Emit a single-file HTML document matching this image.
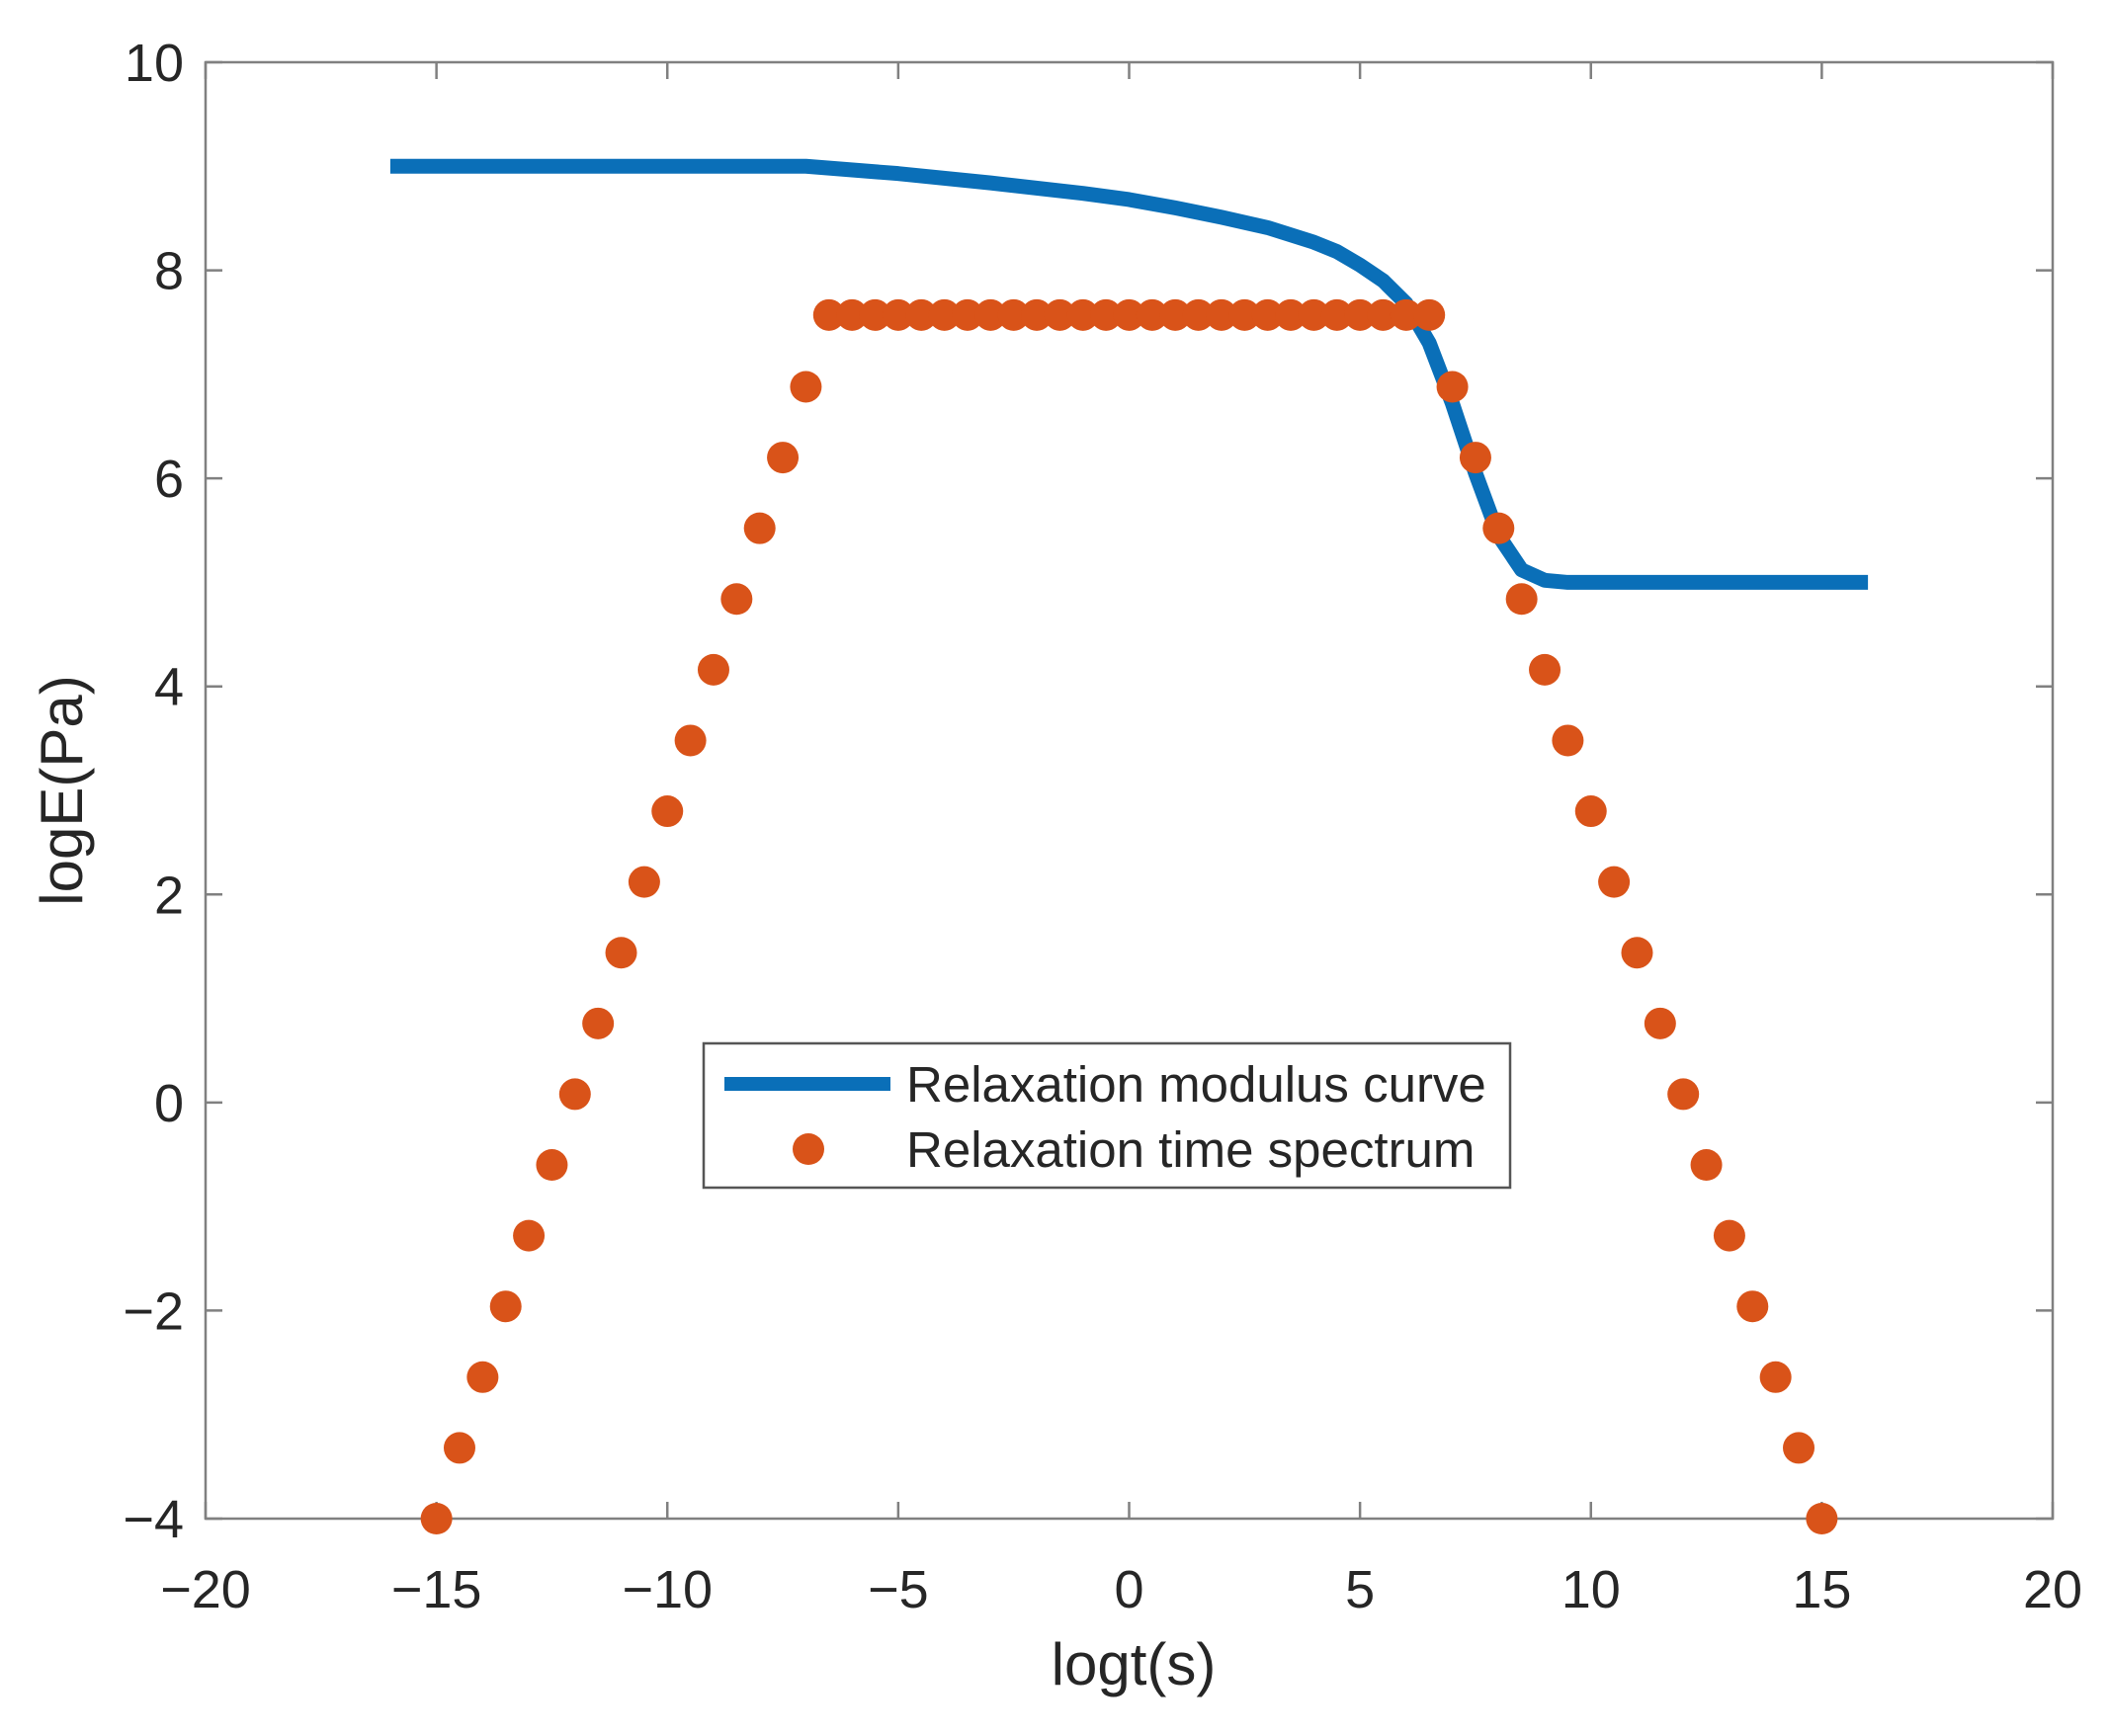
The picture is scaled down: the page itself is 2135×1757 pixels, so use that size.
<!DOCTYPE html>
<html><head><meta charset="utf-8"><style>
html,body{margin:0;padding:0;background:#fff;}
svg{display:block;}
text{font-family:"Liberation Sans",sans-serif;fill:#262626;}
</style></head><body>
<svg id="s" width="2135" height="1757" xmlns="http://www.w3.org/2000/svg">
<rect width="2135" height="1757" fill="#fff"/>
<g id="g"></g>
<rect x="712" y="1056" width="816" height="146" fill="#fff" stroke="#555" stroke-width="2.5"/>
<line x1="733" y1="1097" x2="901" y2="1097" stroke="#0a6fb8" stroke-width="14"/>
<circle cx="818" cy="1163" r="16" fill="#d95319"/>
<text x="917" y="1115" font-size="51">Relaxation modulus curve</text>
<text x="917" y="1181" font-size="51">Relaxation time spectrum</text>
<text x="1147" y="1705" font-size="60" text-anchor="middle">logt(s)</text>
<text transform="translate(83,800) rotate(-90)" font-size="60" text-anchor="middle">logE(Pa)</text>
</svg>
<script>
var L=208,R=2077,T=63,B=1537;
function X(v){return L+(v+20)*(R-L)/40;}
function Y(v){return B-(v+4)*(B-T)/14;}
var h='';
h+='<rect x="'+L+'" y="'+T+'" width="'+(R-L)+'" height="'+(B-T)+'" fill="none" stroke="#808080" stroke-width="2.5"/>';
for(var v=-20;v<=20;v+=5){var x=X(v);
h+='<line x1="'+x+'" y1="'+B+'" x2="'+x+'" y2="'+(B-17)+'" stroke="#808080" stroke-width="2.5"/>';
h+='<line x1="'+x+'" y1="'+T+'" x2="'+x+'" y2="'+(T+17)+'" stroke="#808080" stroke-width="2.5"/>';
h+='<text x="'+x+'" y="1627" font-size="54" text-anchor="middle">'+(v<0?'\u2212'+(-v):v)+'</text>';}
for(var v=-4;v<=10;v+=2){var y=Y(v);
h+='<line x1="'+L+'" y1="'+y+'" x2="'+(L+17)+'" y2="'+y+'" stroke="#808080" stroke-width="2.5"/>';
h+='<line x1="'+R+'" y1="'+y+'" x2="'+(R-17)+'" y2="'+y+'" stroke="#808080" stroke-width="2.5"/>';
h+='<text x="186" y="'+(y+19)+'" font-size="54" text-anchor="end">'+(v<0?'\u2212'+(-v):v)+'</text>';}
var c=[[-16,9],[-7,9],[-5,8.93],[-3,8.84],[-1,8.74],[0,8.68],[1,8.6],[2,8.51],[3,8.41],[4,8.27],[4.5,8.18],[5,8.05],[5.5,7.9],[6,7.68],[6.5,7.3],[7,6.72],[7.5,6.05],[8,5.45],[8.5,5.12],[9,5.02],[9.5,5],[16,5]];
h+='<polyline fill="none" stroke="#0a6fb8" stroke-width="15" stroke-linejoin="round" points="'+c.map(function(p){return X(p[0])+','+Y(p[1]);}).join(' ')+'"/>';
for(var i=0;i<=60;i++){var x=-15+i*0.5,y;
if(x<=-7)y=-4+(x+15)*1.36;else if(x<=6.5)y=7.57;else y=-4+(15-x)*1.36;
h+='<circle cx="'+X(x)+'" cy="'+Y(y)+'" r="16" fill="#d95319"/>';}
document.getElementById('g').innerHTML=h;
</script>
</body></html>
